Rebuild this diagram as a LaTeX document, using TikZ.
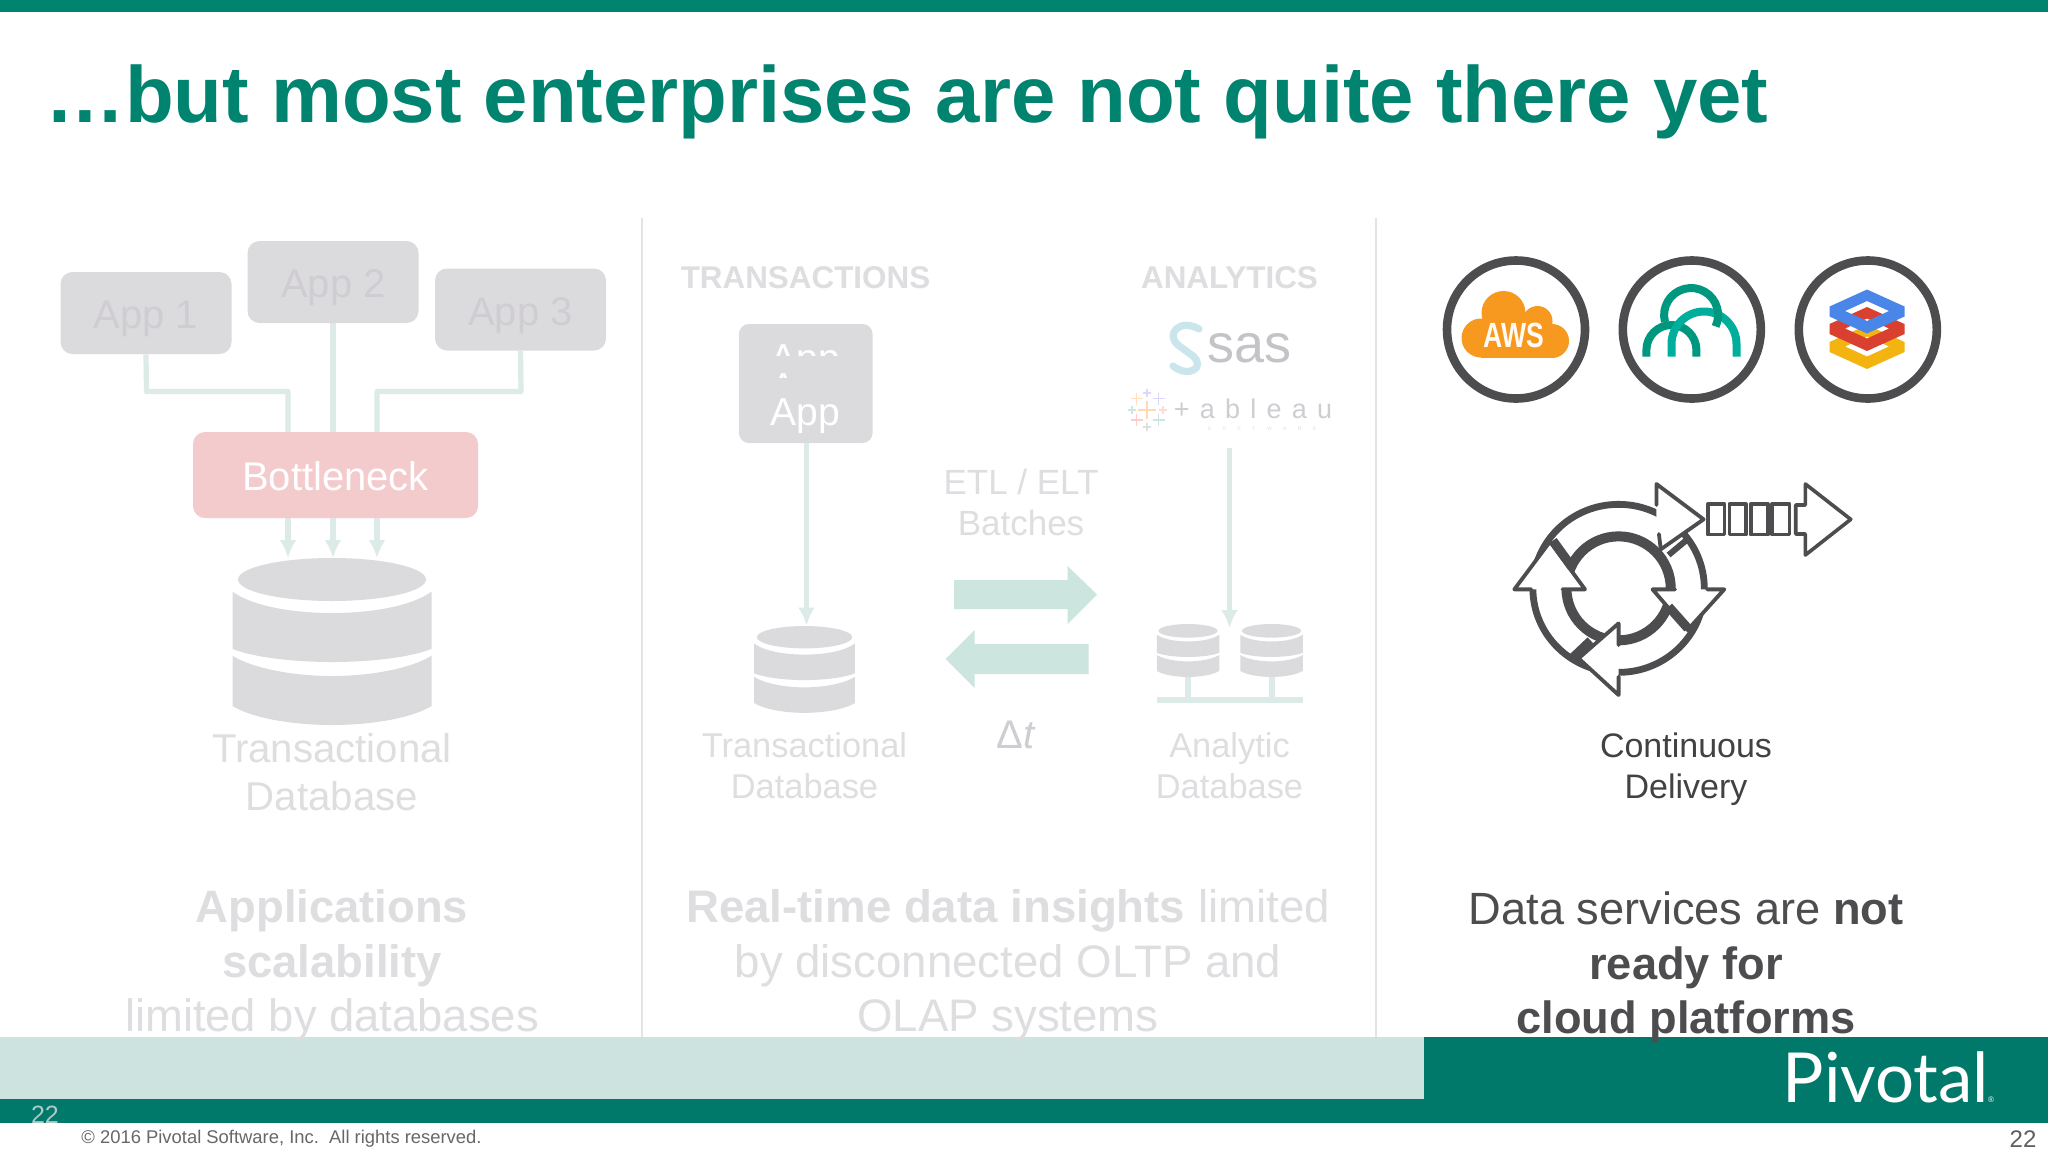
\documentclass[tikz,border=0pt]{standalone}
\usepackage{fontspec}
\setmainfont{Liberation Sans}
\newfontfamily\logofont{Lato}
\usetikzlibrary{arrows.meta}
\newcommand\fz[1]{\fontsize{#1}{#1}\selectfont}
\definecolor{brandtop}{HTML}{00836F}
\definecolor{banddark}{HTML}{00786A}
\definecolor{bandlight}{HTML}{CCE3E0}
\definecolor{fadebox}{HTML}{DBDADD}
\definecolor{fadetext}{HTML}{DEDDE0}
\definecolor{fadeboxtext}{HTML}{CFCDD2}
\definecolor{fadeline}{HTML}{DCEBE8}
\definecolor{fadeblock}{HTML}{CCE5DF}
\definecolor{faderule}{HTML}{E4E4E6}
\definecolor{fadered}{HTML}{F3CBCD}
\definecolor{ink}{HTML}{4D4C4F}
\definecolor{awsorange}{HTML}{F7981F}
\definecolor{gblue}{HTML}{4A86E8}
\definecolor{gred}{HTML}{D9402F}
\definecolor{gyellow}{HTML}{F4B40F}
\definecolor{pdark}{HTML}{00977F}
\definecolor{pteal}{HTML}{00AE9C}
\definecolor{saslink}{HTML}{CBE5EC}
\tikzset{
  appbox/.style={fill=fadebox,rounded corners=6pt,inner sep=0pt,minimum width=85.5pt,minimum height=41pt},
  txt/.style={anchor=base,inner sep=0pt},
  wire/.style={draw=fadeline,line width=2.6pt},
  wirehead/.style={wire,-{Latex[length=9pt,width=8.5pt]}},
  rulez/.style={draw=faderule,line width=1pt},
  block/.style={fill=fadeblock},
  headedge/.style={draw=ink,line width=1.9pt,line join=round,line cap=round},
  tailbar/.style={draw=ink,line width=4.6pt},
  chainbox/.style={draw=ink,fill=white,line width=1.8pt,line join=round},
  cloudring/.style={draw=ink,line width=4.3pt},
  plusmark/.style={line width=0.7pt}
}
\newcommand\dbcyl[4]{%
  \begin{scope}[shift={(#1,#2)},xscale=#3,yscale=#4]
    \fill[fadebox] (0,21.5) ellipse [x radius=94,y radius=21.5];
    \fill[fadebox] (-99.5,33.6) .. controls (-80,48) and (-40,55) .. (0,55) .. controls (40,55) and (80,48) .. (99.5,33.6)
      -- (99.5,90.8) .. controls (80,99) and (40,104) .. (0,104) .. controls (-40,104) and (-80,99) .. (-99.5,90.8) -- cycle;
    \fill[fadebox] (-99.5,97.7) .. controls (-80,110) and (-40,118) .. (0,118) .. controls (40,118) and (80,110) .. (99.5,97.7)
      -- (99.5,148) .. controls (80,160) and (40,167) .. (0,167) .. controls (-40,167) and (-80,160) .. (-99.5,148) -- cycle;
  \end{scope}}
\newcommand\plusat[4]{\draw[plusmark,#4] (#1-#3,#2) -- (#1+#3,#2) (#1,#2-#3) -- (#1,#2+#3);}
\newcommand\gcplayer[2]{%
  \fill[#2,even odd rule] (1867,#1) -- (1904.5,#1+17) -- (1904.5,#1+27) -- (1867,#1+44) -- (1829.5,#1+27) -- (1829.5,#1+17) -- cycle
    (1867,#1+11.5) -- (1889,#1+21.5) -- (1867,#1+31.5) -- (1845,#1+21.5) -- cycle;}
\begin{document}
\begin{tikzpicture}[x=0.5pt,y=-0.5pt]
\useasboundingbox (0,0) rectangle (2048,1152);
\fill[white] (0,0) rectangle (2048,1152);
% frame
\fill[brandtop] (0,0) rectangle (2048,12);
\node[txt,text=brandtop] (title) at (907,122) {\fz{39.86}\bfseries …but most enterprises are not quite there yet};
\draw[rulez] (641.5,218) coordinate (r1a) -- (641.5,1037) coordinate (r1b);
\draw[rulez] (1375.5,218) coordinate (r2a) -- (1375.5,1037) coordinate (r2b);
% bottom bands
\fill[bandlight] (0,1037) rectangle (1424,1099);
\fill[banddark] (1424,1037) rectangle (2048,1099);
\fill[banddark] (0,1099) rectangle (2048,1123);
\node[txt,text=white] (logo) at (1886,1102) {\logofont\fz{34.5}Pivotal};
\node[txt,text=white] (logoreg) at (1991,1102) {\fz{4}®};
\node[txt,text=white!55!banddark!60!fadebox] (pgl) at (45,1123) {\fz{12.5}22};
\node[txt,text=ink!85!white] (copy) at (281.5,1143) {\fz{9.2}© 2016 Pivotal Software, Inc.\ \ All rights reserved.};
\node[txt,text=ink!90!white] (pgr) at (2023,1147) {\fz{12}22};

% left panel
\coordinate (b1) at (288,432); \coordinate (b2) at (333,432); \coordinate (b3) at (377,432);
\coordinate (e1) at (146.5,391.5); \coordinate (e3) at (521,391.5);
\coordinate (c1) at (288,518); \coordinate (c2) at (333,518); \coordinate (c3) at (377,518);
\coordinate (d1) at (288,558); \coordinate (d2) at (333,558); \coordinate (d3) at (377,558);
\node[appbox] (app1) at (146,313) {};
\node[appbox] (app2) at (333,282) {};
\node[appbox] (app3) at (520.5,309.5) {};
\node[txt,text=fadeboxtext] (app1t) at (146,328) {\fz{20}App 1};
\node[txt,text=fadeboxtext] (app2t) at (333.5,297) {\fz{20}App 2};
\node[txt,text=fadeboxtext] (app3t) at (520.5,325.5) {\fz{20}App 3};
\draw[wire,line join=round] (app1.south) -- (e1) -| (b1);
\draw[wire] (app2.south) -- (b2);
\draw[wire,line join=round] (app3.south) -- (e3) -| (b3);
\draw[wirehead] (c1) -- (d1);
\draw[wirehead] (c2) -- (d2);
\draw[wirehead] (c3) -- (d3);
\node[fill=fadered,rounded corners=6pt,minimum width=142.5pt,minimum height=43pt,inner sep=0pt] (neck) at (335.5,475) {};
\node[txt,text=white] (neckt) at (335.5,490) {\fz{20}Bottleneck};
\dbcyl{332}{558}{1}{1}
\node[txt,text=fadetext] (d1a) at (332,762) {\fz{20.1}Transactional};
\node[txt,text=fadetext] (d1b) at (332,810) {\fz{20.1}Database};
\node[txt,text=fadetext] (l1) at (332,922) {\fz{22.7}\bfseries Applications};
\node[txt,text=fadetext] (l2) at (332,977) {\fz{22.7}\bfseries scalability};
\node[txt,text=fadetext] (l3) at (332,1031) {\fz{22.7}limited by databases};

% middle panel
\node[txt,text=fadetext] (tr) at (805.5,288.5) {\fz{15.7}\bfseries TRANSACTIONS};
\node[txt,text=fadetext] (an) at (1229.5,288.5) {\fz{15.7}\bfseries ANALYTICS};
\node[fill=fadebox,rounded corners=5pt,minimum width=66.8pt,minimum height=59.5pt,inner sep=0pt] (appm) at (805.7,383.5) {};
\begin{scope}
  \clip (740,330) rectangle (872,355);
  \node[txt,text=white] (appx) at (805.5,371) {\fz{19.5}App};
\end{scope}
\begin{scope}
  \clip (740,365) rectangle (872,377);
  \node[txt,text=white] (appy) at (805.5,400.5) {\fz{19.5}App};
\end{scope}
\node[txt,text=white] (appt) at (805.5,425) {\fz{19.5}App};
\coordinate (dbm) at (806.5,625.5);
\draw[wirehead] (appm.south -| dbm) -- (dbm);
\dbcyl{804.5}{626}{0.507}{0.52}
\node[txt,text=fadetext] (d2a) at (804.5,757) {\fz{17.2}Transactional};
\node[txt,text=fadetext] (d2b) at (804.5,798) {\fz{17.2}Database};
% logos
\draw[draw=saslink,line width=3.6pt,line cap=round] (1199,329) .. controls (1180,318) and (1165,334) .. (1178,345) -- (1193,356) .. controls (1206,368) and (1188,378) .. (1173,366);
\node[txt,text=fadeboxtext!95!black] (sas) at (1249.5,362) {\fz{27}sas};
\plusat{1147}{410}{9}{draw=orange!30!white}
\plusat{1136.5}{398.5}{6}{draw=orange!25!white}
\plusat{1158.5}{398.5}{6}{draw=blue!15!white}
\plusat{1136.5}{420}{6}{draw=red!20!white}
\plusat{1158.5}{420}{6}{draw=teal!20!white}
\plusat{1147}{393}{4}{draw=blue!15!white}
\plusat{1147}{427}{4}{draw=gray!25!white}
\plusat{1132}{410}{4}{draw=teal!20!white}
\plusat{1163}{410}{4}{draw=red!15!white}
\node[txt,text=fadeboxtext] (tab) at (1253,418) {\addfontfeature{LetterSpace=38}\fz{13.5}+ableau};
\node[txt,text=fadetext] (tabs) at (1262,430) {\addfontfeature{LetterSpace=230}\fz{2.5}SOFTWARE};
\coordinate (anstart) at (1229.5,447.5);
\coordinate (antip) at (1229.5,628);
\draw[wirehead] (anstart) -- (antip);
\dbcyl{1188}{624}{0.314}{0.317}
\dbcyl{1271.5}{624}{0.314}{0.317}
\draw[draw=fadeline,line width=3pt] (1156.5,700) coordinate (busl) -- (1303,700) coordinate (busr);
\draw[wire] (1188,677) -- (1188,700);
\draw[wire] (1272,677) -- (1272,700);
\node[txt,text=fadetext] (etl) at (1021,494) {\fz{17.5}ETL / ELT};
\node[txt,text=fadetext] (bat) at (1021,535.5) {\fz{17.5}Batches};
\fill[block] (954,580) -- (1067.5,580) -- (1067.5,566) -- (1097,594.5) -- (1067.5,624) -- (1067.5,609) -- (954,609) -- cycle;
\fill[block] (1088.5,644) -- (974.5,644) -- (974.5,630) -- (945.5,659) -- (974.5,688) -- (974.5,674) -- (1088.5,674) -- cycle;
\node[txt,text=fadeboxtext] (dt) at (1016,748) {\fz{20}Δ\textit{t}};
\node[txt,text=fadetext] (d3a) at (1229.5,757) {\fz{17.2}Analytic};
\node[txt,text=fadetext] (d3b) at (1229.5,798) {\fz{17.2}Database};
\node[txt,text=fadetext] (m1) at (1008,922) {\fz{22.8}\textbf{Real-time data insights} limited};
\node[txt,text=fadetext] (m2) at (1008,977) {\fz{22.8}by disconnected OLTP and};
\node[txt,text=fadetext] (m3) at (1008,1031) {\fz{22.8}OLAP systems};

% right panel: cloud circles
\draw[cloudring] (1516,329.5) circle (69);
\draw[cloudring] (1691.8,329.5) circle (69);
\draw[cloudring] (1867.8,329.5) circle (69);
% AWS cloud
\fill[awsorange] (1503.5,313) circle (22);
\fill[awsorange] (1537.5,321) circle (15);
\fill[awsorange] (1481,338) circle (19.5);
\fill[awsorange] (1552,341) circle (17);
\fill[awsorange] (1481,320) rectangle (1552,357.5);
\node[txt,text=white!95!awsorange,xscale=0.76] (aws) at (1514,347) {\fz{17.5}\bfseries AWS};
% platform logo
\draw[pdark,line width=4pt] (1646.4,356.7) -- (1646.4,350) arc[start angle=180,end angle=360,radius=25] -- (1696.4,356.7);
\draw[pteal,line width=4pt] (1671.5,356.7) -- (1671.5,344) arc[start angle=180,end angle=360,radius=32.5] -- (1736.5,356.7);
\draw[pdark,line width=4pt] (1665,322) arc[start angle=165,end angle=385,radius=27];
% stacked layers
\gcplayer{325}{gyellow}
\gcplayer{307}{gred}
\gcplayer{289.5}{gblue}
% continuous delivery icon (coordinates measured on a 2.8 x 3 grid)
\begin{scope}[xshift=700pt,yshift=-115pt,x=0.17857pt,y=-0.16667pt]
  \draw[draw=ink,line width=5pt] (612,1075) ellipse [x radius=146,y radius=156];
  \draw[draw=ink,line width=3.4pt] (612,1075) ellipse [x radius=240,y radius=252];
  % head 2, pointing down on the right
  \fill[white] (707,1078) -- (908,1078) -- (805,1200) -- cycle;
  \draw[headedge] (770,1078) -- (707,1078) -- (805,1200) -- (908,1078) -- (860,1078);
  % head 3, pointing left at the bottom
  \fill[white] (612,1180) -- (500,1285) -- (612,1395) -- cycle;
  \draw[headedge] (612,1245) -- (612,1180) -- (500,1285) -- (612,1395) -- (612,1340);
  % head 4, pointing up on the left
  \fill[white] (320,1078) -- (420,935) -- (518,1078) -- cycle;
  \draw[headedge] (368,1078) -- (320,1078) -- (420,935) -- (518,1078) -- (455,1078);
  % head 1, pointing right at the top
  \fill[white] (718,762) -- (850,868) -- (730,958) -- (718,908) -- (718,825) -- cycle;
  \draw[headedge] (718,825) -- (718,762) -- (850,868) -- (730,958) -- (725,912);
  % dark tail bars between neighbouring arrows
  \draw[tailbar] (428,932) -- (482,1012);
  \draw[tailbar] (482,1285) -- (534,1232);
  \draw[tailbar] (752,1130) -- (806,1195);
  \draw[draw=ink,line width=3pt] (752,975) -- (808,925);
  \draw[chainbox] (862,822) rectangle (908,914);
  \draw[chainbox] (922,822) rectangle (968,914);
  \draw[chainbox] (982,822) rectangle (1030,914);
  \draw[chainbox] (1042,822) rectangle (1090,914);
  \draw[chainbox] (1108,825) -- (1135,825) -- (1135,762) -- (1262,868) -- (1135,975) -- (1135,912) -- (1108,912) -- cycle;
\end{scope}
\node[txt,text=ink!85!black] (cd1) at (1686,757) {\fz{17}Continuous};
\node[txt,text=ink!85!black] (cd2) at (1686,798) {\fz{17}Delivery};
\node[txt,text=ink] (r1) at (1686,924) {\fz{22.6}Data services are \textbf{not}};
\node[txt,text=ink] (r2) at (1686,979) {\fz{22.6}\bfseries ready for};
\node[txt,text=ink] (r3) at (1686,1033) {\fz{22.6}\bfseries cloud platforms};
\end{tikzpicture}
\end{document}
